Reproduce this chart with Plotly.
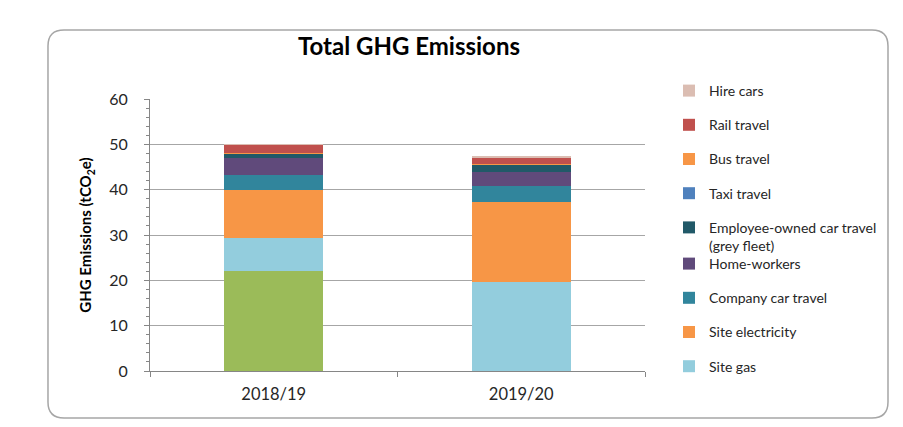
import plotly.graph_objects as go

years = ["2018/19", "2019/20"]

# bottom of the stack first
site_energy = [22.0, 0.0]
site_gas = [7.3, 19.6]
site_electricity = [10.7, 17.7]
company_car = [3.3, 3.6]
home_workers = [3.6, 3.1]
grey_fleet = [1.0, 1.5]
taxi = [0.05, 0.1]
bus = [0.05, 0.1]
rail = [1.95, 1.5]
hire_cars = [0.05, 0.1]

FONT = "Lato"
# the page body has an 8px margin, so work in page pixels and shift
OFF = 8
W, H = 903 - OFF, 427 - OFF
# plot area in page pixels
L, R, T, B = 150, 645, 99, 371

fig = go.Figure()

# name, values, colour, legend box, rank in legend
series = [
    ("Site energy", site_energy, "#9BBB59", None, 0),
    ("Site gas", site_gas, "#93CDDD", "legend2", 9),
    ("Site electricity", site_electricity, "#F79646", "legend2", 8),
    ("Company car travel", company_car, "#31859C", "legend2", 7),
    ("Home-workers", home_workers, "#604A7B", "legend2", 6),
    ("Employee-owned car travel<br>(grey fleet)", grey_fleet, "#215968", "legend", 5),
    ("Taxi travel", taxi, "#4F81BD", "legend", 4),
    ("Bus travel", bus, "#F79646", "legend", 3),
    ("Rail travel", rail, "#C0504D", "legend", 2),
    ("Hire cars", hire_cars, "#DBBDB2", "legend", 1),
]

for name, vals, col, leg, rank in series:
    fig.add_trace(go.Bar(
        x=years, y=vals, name=name,
        marker=dict(color=col, line=dict(width=0)),
        showlegend=leg is not None,
        legend=leg if leg else "legend",
        legendgroup=name, legendrank=rank,
    ))


def px_to_paper(px, py):
    return (px - L) / (R - L), (B - py) / (B - T)


def rounded_box(x0, y0, x1, y1, r):
    def p(x, y):
        a, b = px_to_paper(x, y)
        return f"{a:.4f},{b:.4f}"
    return (f"M {p(x0 + r, y0)} L {p(x1 - r, y0)} Q {p(x1, y0)} {p(x1, y0 + r)} "
            f"L {p(x1, y1 - r)} Q {p(x1, y1)} {p(x1 - r, y1)} "
            f"L {p(x0 + r, y1)} Q {p(x0, y1)} {p(x0, y1 - r)} "
            f"L {p(x0, y0 + r)} Q {p(x0, y0)} {p(x0 + r, y0)} Z")


fig.add_shape(type="path", xref="paper", yref="paper",
              path=rounded_box(48, 30, 888, 418, 16),
              line=dict(color="#A6A6A6", width=1.5), layer="below")


def cx(px):
    return (px - OFF) / W


def cy(py):
    return 1 - (py - OFF) / H


legend_common = dict(
    xref="container", yref="container",
    xanchor="left", yanchor="top",
    font=dict(family=FONT, size=14, color="#262626"),
    traceorder="grouped",
    tracegroupgap=13,
    valign="top",
    bgcolor="rgba(0,0,0,0)",
)

fig.update_layout(
    width=W, height=H,
    margin=dict(l=L - OFF, r=903 - R, t=T - OFF, b=427 - B, autoexpand=False),
    paper_bgcolor="white", plot_bgcolor="white",
    barmode="stack", bargap=0.6,
    font=dict(family=FONT, color="#262626"),
    title=dict(text="<b>Total GHG Emissions</b>", font=dict(family=FONT, size=24, color="black"),
               xref="container", yref="container",
               x=cx(409), y=cy(47), xanchor="center", yanchor="middle"),
    legend=dict(x=cx(669), y=cy(75), **legend_common),
    legend2=dict(x=cx(669), y=cy(248), **legend_common),
    xaxis=dict(
        showline=True, linecolor="#868686", linewidth=1,
        ticks="outside", tickson="boundaries", ticklen=5, tickcolor="#868686",
        tickfont=dict(family=FONT, size=16.5, color="#262626"),
        ticklabelstandoff=8,
        showgrid=False,
    ),
    yaxis=dict(
        range=[0, 60], dtick=10,
        showline=True, linecolor="#868686", linewidth=1,
        ticks="outside", ticklen=5, tickcolor="#868686",
        tickfont=dict(family=FONT, size=16, color="#262626"),
        ticklabelstandoff=13,
        gridcolor="#A6A6A6", gridwidth=1,
        zeroline=False,
        minor=dict(dtick=2, ticks="outside", ticklen=3, tickcolor="#868686", showgrid=False),
        title=dict(text="<b>GHG Emissions (tCO<sub>2</sub>e)</b>",
                   font=dict(family=FONT, size=15, color="black"), standoff=13),
    ),
)

fig.write_html("out.html")
